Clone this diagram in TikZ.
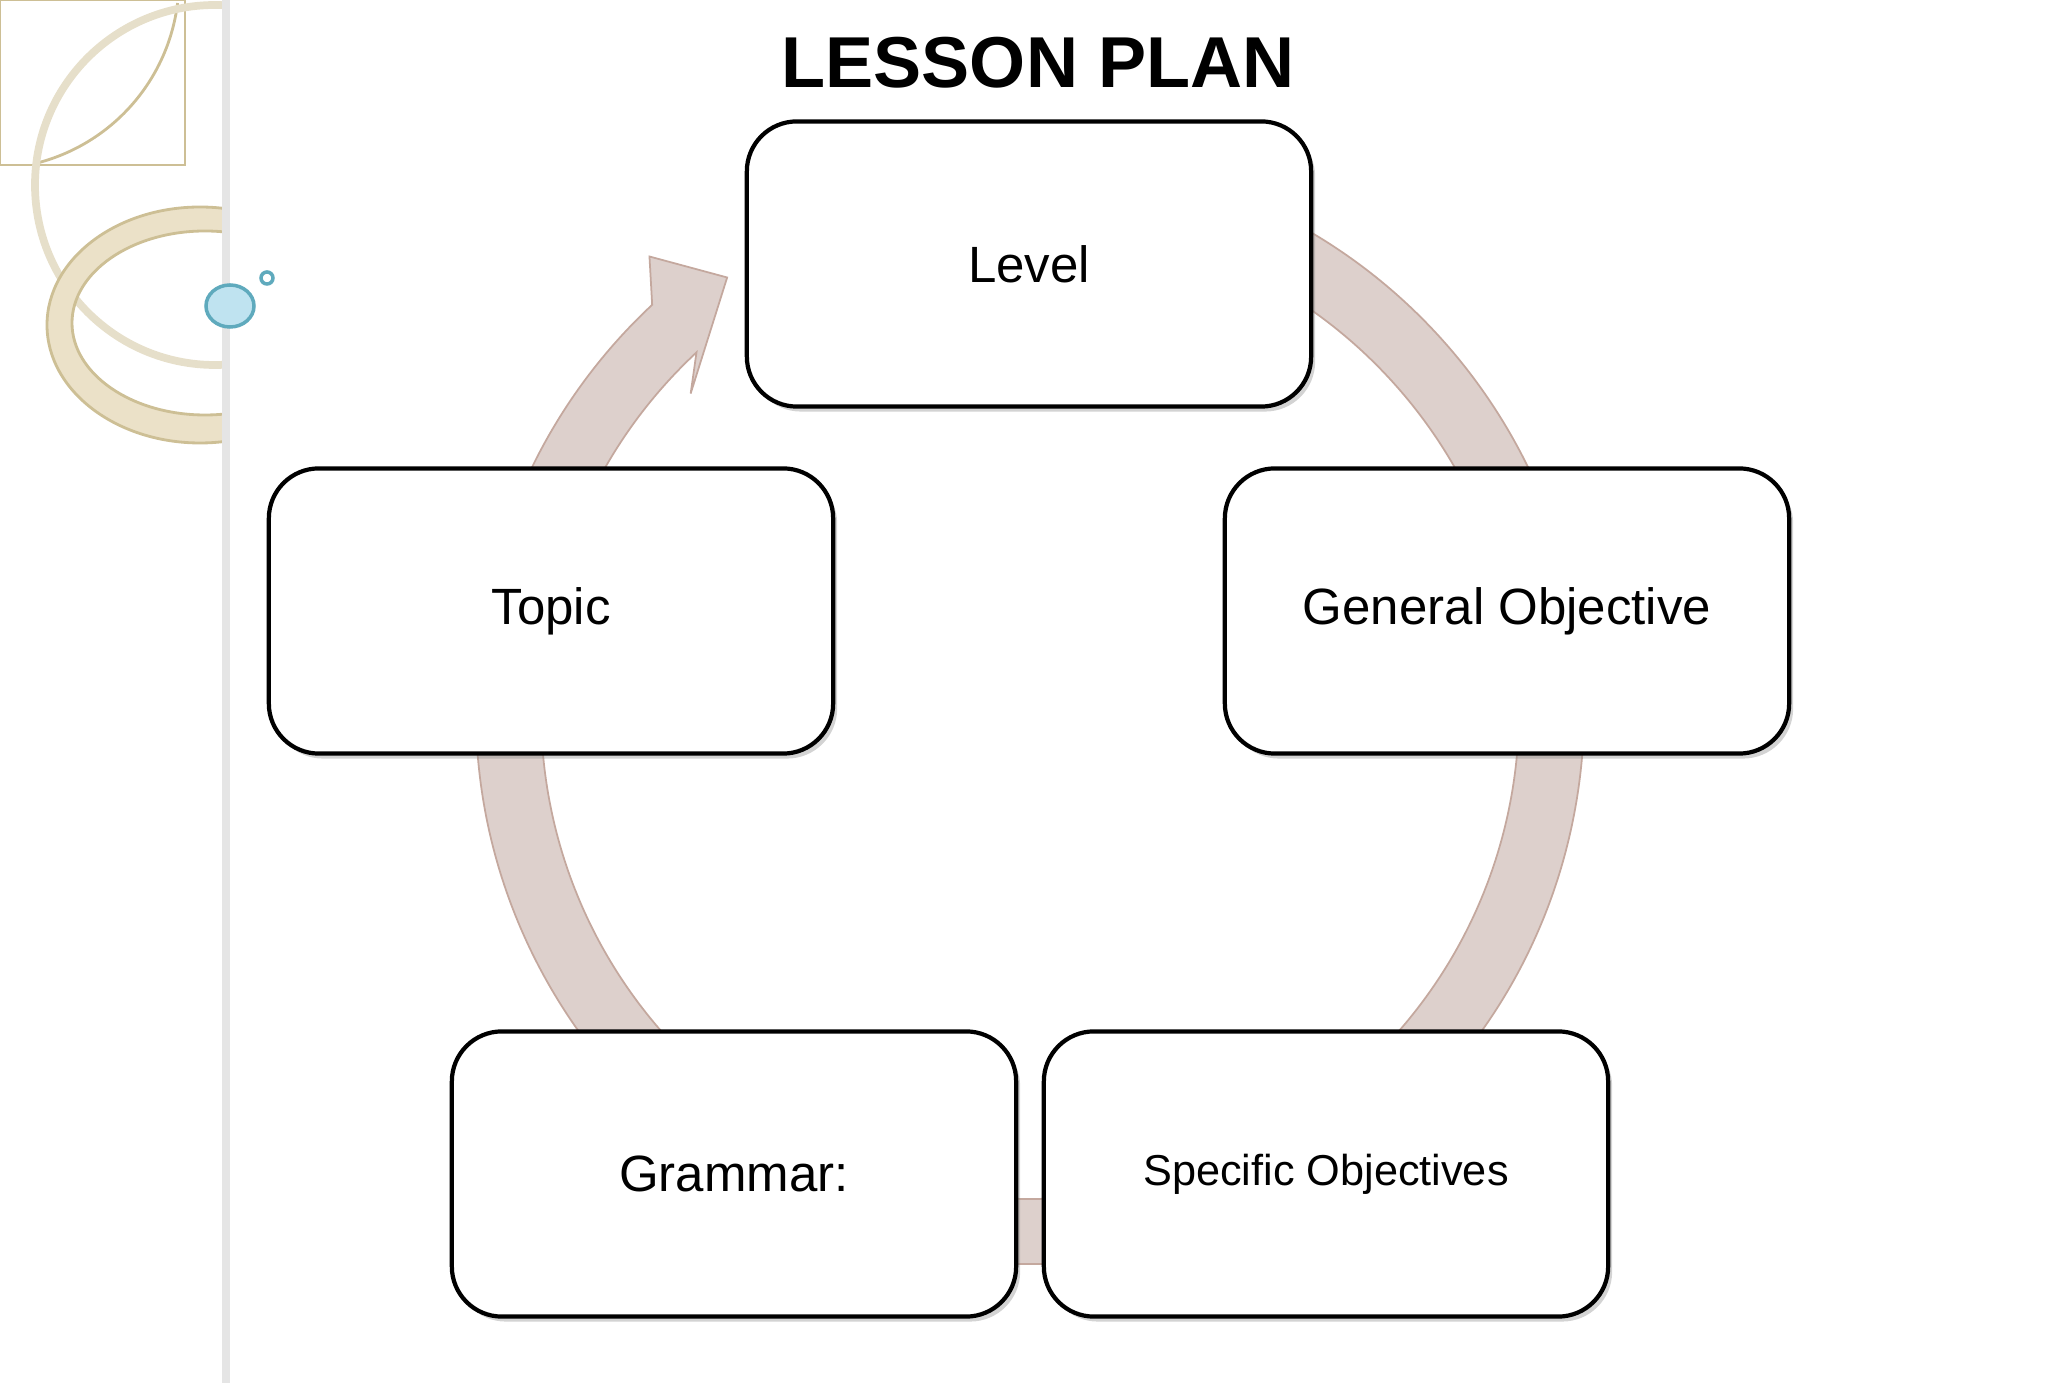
\documentclass[tikz,border=0pt]{standalone}
\usepackage{fontspec}
\setmainfont{Liberation Sans}
\usetikzlibrary{shadows}
\definecolor{band}{HTML}{DDD0CC}
\definecolor{bandline}{HTML}{C4A89E}
\definecolor{tan}{HTML}{CDBF95}
\definecolor{tanfill}{HTML}{EBE1C8}
\definecolor{bub}{HTML}{BFE3F0}
\definecolor{bubline}{HTML}{5FAABD}
\tikzset{
  stepbox/.style={draw=black, line width=1.2pt, fill=white, rounded corners=0.5cm,
    minimum width=5.64cm, minimum height=2.85cm, inner sep=0pt,
    drop shadow={shadow xshift=0.04cm, shadow yshift=-0.05cm, opacity=0.35, fill=gray}},
  boxtext/.style={font=\fontsize{14.5}{17}\selectfont}
}
\begin{document}
\begin{tikzpicture}[x=0.01cm,y=0.01cm]
\useasboundingbox (0,0) rectangle (2048,-1383);
% left decoration
\begin{scope}
\clip (0,0) rectangle (224,-1383);
\draw[tan, line width=0.8pt] (0,0) rectangle (185,-165);
\draw[tan, line width=0.8pt] (-10,20) ++(-76:189) arc[start angle=-76,end angle=-7,radius=189];
\draw[tan!50, line width=2.2pt] (215,-185) circle[radius=180];
\fill[tanfill, draw=tan, line width=0.8pt, even odd rule] (200,-325) ellipse[x radius=153, y radius=118] (205,-323) ellipse[x radius=133, y radius=92];
\end{scope}
\draw[black!10, line width=2.5pt] (226,0) -- (226,-1383);
\fill[bub, draw=bubline, line width=1pt] (230,-306) ellipse[x radius=24, y radius=21];
\draw[bubline, line width=1pt] (267,-278) circle[radius=6];
% title
\node (title) at (1038,-63) {\fontsize{20.5}{24}\selectfont\bfseries LESSON PLAN};
% cycle band
\coordinate (C) at (1030,-710);
\filldraw[fill=band, draw=bandline, line width=0.5pt]
  ([shift={(C)}]133:489) arc[start angle=133, end angle=440, radius=489]
  -- ([shift={(C)}]440:554) arc[start angle=440, end angle=133, radius=554]
  -- ([shift={(C)}]130:592) -- ([shift={(C)}]125:528) -- ([shift={(C)}]137:464) -- cycle;
% boxes
\node[stepbox] (level) at (1029,-264) {}; \node[boxtext] at (level) {Level};
\node[stepbox] (topic) at (551,-611) {}; \node[boxtext] at (topic) {Topic};
\node[stepbox] (genobj) at (1507,-611) {}; \node[boxtext] at (genobj) {General Objective};
\node[stepbox] (grammar) at (734,-1174) {}; \node[boxtext] at (grammar) {Grammar:};
\node[stepbox] (spec) at (1326,-1174) {}; \node[font=\fontsize{12.3}{15}\selectfont] at (spec) {Specific Objectives};
\end{tikzpicture}
\end{document}
